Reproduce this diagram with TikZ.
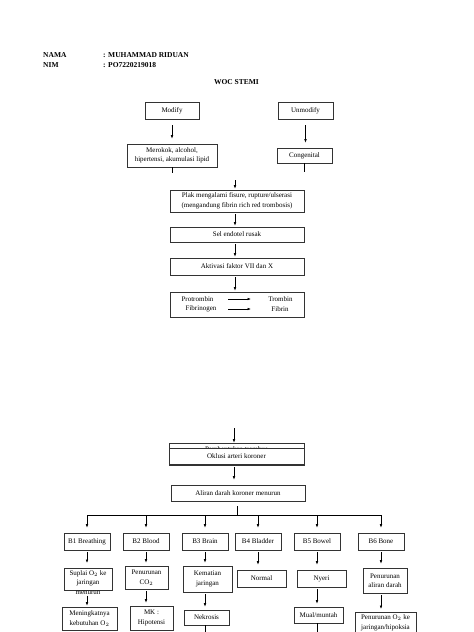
\documentclass[tikz,border=0pt]{standalone}
\usepackage{fontspec}
\setmainfont{Liberation Serif}
\usetikzlibrary{arrows.meta}
\begin{document}
\begin{tikzpicture}[x=1pt,y=-1pt,
  box/.style={draw=black!80,line width=0.6pt,fill=white,inner sep=0pt,align=center,font=\fontsize{7}{9.5}\selectfont},
  arr/.style={draw=black,line width=0.6pt,-{Latex[length=3.5pt,width=2.6pt]}},
  ln/.style={draw=black,line width=0.6pt},
  lbl/.style={inner sep=0pt,font=\fontsize{7}{9}\selectfont},
  hd/.style={inner sep=0pt,anchor=base west,font=\fontsize{7.5}{9}\selectfont\bfseries}]
\useasboundingbox (0,0) rectangle (474,632);
\fill[white] (0,0) rectangle (474,632);
% header
\node[hd] (nama) at (43,57.5) {NAMA};
\node[hd] (nim) at (43,67) {NIM};
\node[hd] (namav) at (103,57.5) {: MUHAMMAD RIDUAN};
\node[hd] (nimv) at (103,67) {: PO7220219018};
\node[hd,anchor=base] (title) at (236.5,84) {WOC STEMI};
% top boxes
\node[box,minimum width=54pt,minimum height=17pt] (modify) at (172,110.5) {Modify};
\node[box,minimum width=55pt,minimum height=17pt] (unmodify) at (305.5,110.5) {Unmodify};
\node[box,minimum width=90pt,minimum height=23pt] (merokok) at (172,155.5) {Merokok, alcohol,\\hipertensi, akumulasi lipid};
\node[box,minimum width=55pt,minimum height=15pt] (congenital) at (304.5,155.5) {Congenital};
\draw[arr,shorten <=6pt,shorten >=5pt] (modify.south) -- (merokok.north);
\draw[arr,shorten <=6pt,shorten >=5pt] (unmodify.south) -- (unmodify.south |- congenital.north);
\coordinate (m1) at (172,173);
\coordinate (c1) at (304.5,172);
\coordinate (p0) at (235,180);
\draw[ln] (merokok.south) -- (m1);
\draw[ln] (congenital.south) -- (c1);
% central chain
\node[box,minimum width=134pt,minimum height=22pt] (plak) at (237,201) {Plak mengalami fisure, rupture/ulserasi\\(mengandung fibrin rich red trombosis)};
\node[box,minimum width=134pt,minimum height=15pt] (sel) at (237,234.5) {Sel endotel rusak};
\node[box,minimum width=134pt,minimum height=17pt] (aktivasi) at (237,266.5) {Aktivasi faktor VII dan X};
\node[box,minimum width=134pt,minimum height=25pt] (protro) at (237,304.5) {};
\draw[arr,shorten >=1pt] (p0) -- (p0 |- plak.north);
\draw[arr,shorten <=2pt,shorten >=1pt] (plak.south -| p0) -- (sel.north -| p0);
\draw[arr,shorten <=2pt,shorten >=1pt] (sel.south -| p0) -- (aktivasi.north -| p0);
\draw[arr,shorten <=2pt,shorten >=1pt] (aktivasi.south -| p0) -- (protro.north -| p0);
\node[lbl] (protrombin) at (197.5,299) {Protrombin};
\node[lbl] (fibrinogen) at (201,309) {Fibrinogen};
\node[lbl] (trombin) at (280.5,299) {Trombin};
\node[lbl] (fibrin) at (280,309) {Fibrin};
\coordinate (a1s) at (228,299); \coordinate (a1e) at (251,299);
\coordinate (a2s) at (228,309); \coordinate (a2e) at (251,309);
\draw[arr] (a1s) -- (a1e);
\draw[arr] (a2s) -- (a2e);
% lower chain
\node[box,minimum width=135pt,minimum height=22pt] (pembentukan) at (236.5,454) {};
\node[lbl,anchor=base] (pembt) at (236.5,451.5) {Pembentukan trombus};
\node[box,minimum width=135pt,minimum height=16pt] (oklusi) at (236.5,456) {Oklusi arteri koroner};
\coordinate (k0) at (234,428);
\draw[arr] (k0) -- (k0 |- pembentukan.north);
\node[box,minimum width=134pt,minimum height=16pt] (aliran) at (238,493) {Aliran darah koroner menurun};
\draw[arr,shorten <=3pt,shorten >=5pt] (oklusi.south -| k0) -- (aliran.north -| k0);
\coordinate (h0) at (237,515);
\coordinate (hL) at (87,515);
\coordinate (hR) at (381,515);
\draw[ln,shorten <=5pt] (aliran.south -| h0) -- (h0);
\draw[ln] (hL) -- (hR);
% B boxes
\foreach \n/\x/\t in {b1/87/B1 Breathing,b2/146/B2 Blood,b3/205/B3 Brain,b4/258/B4 Bladder,b5/317/B5 Bowel,b6/381/B6 Bone}{
  \node[box,minimum width=46pt,minimum height=17pt] (\n) at (\x,541.5) {\t};
  \draw[arr,shorten >=5pt] (\x,515) -- (\n.north);
}
% row 2
\node[box,minimum width=48pt,minimum height=22pt,anchor=north] (suplai) at (88,568) {};
\node[lbl,anchor=north,align=center,font=\fontsize{7}{9.5}\selectfont] (suplait) at (88,570) {Suplai O$_2$ ke\\jaringan\\menurun};
\node[box,minimum width=43pt,minimum height=23pt] (co2) at (146.5,577.5) {Penurunan\\CO$_2$};
\node[box,minimum width=49pt,minimum height=26pt] (kematian) at (207.5,579) {Kematian\\jaringan};
\node[box,minimum width=49pt,minimum height=17pt] (normal) at (261.5,578.5) {Normal};
\node[box,minimum width=49pt,minimum height=17pt] (nyeri) at (321.5,578.5) {Nyeri};
\node[box,minimum width=44pt,minimum height=25pt] (alirdarah) at (385,580.5) {Penurunan\\aliran darah};
\draw[arr,shorten <=2pt,shorten >=5pt] (b1.south) -- (b1.south |- suplai.north);
\draw[arr,shorten <=2pt,shorten >=3pt] (b2.south) -- (b2.south |- co2.north);
\draw[arr,shorten <=2pt,shorten >=3pt] (b3.south) -- (b3.south |- kematian.north);
\draw[arr,shorten <=2pt,shorten >=5pt] (b4.south) -- (b4.south |- normal.north);
\draw[arr,shorten <=2pt,shorten >=5pt] (b5.south) -- (b5.south |- nyeri.north);
\draw[arr,shorten <=2pt,shorten >=4pt] (b6.south) -- (b6.south |- alirdarah.north);
% row 3
\node[box,minimum width=55pt,minimum height=23pt] (mening) at (89.5,618.5) {Meningkatnya\\kebutuhan O$_2$};
\node[box,minimum width=43pt,minimum height=24pt] (mk) at (151.5,618) {MK :\\Hipotensi};
\node[box,minimum width=45pt,minimum height=15pt] (nekrosis) at (206.5,617.5) {Nekrosis};
\node[box,minimum width=49pt,minimum height=16pt] (mual) at (318.5,615) {Mual/muntah};
\node[box,minimum width=61pt,minimum height=28pt,anchor=north] (peno2) at (385.5,612) {};
\node[lbl,anchor=north,align=center,font=\fontsize{7}{9.5}\selectfont] (peno2t) at (385.5,614.5) {Penurunan O$_2$ ke\\jaringan/hipoksia};
\draw[arr,shorten <=5pt,shorten >=1pt] (suplai.south -| b1.south) -- (b1.south |- mening.north);
\draw[arr,shorten <=2pt,shorten >=3pt] (co2.south -| b2.south) -- (b2.south |- mk.north);
\draw[arr,shorten <=2pt,shorten >=3pt] (kematian.south -| b3.south) -- (b3.south |- nekrosis.north);
\draw[arr,shorten <=2pt,shorten >=3pt] (nyeri.south -| b5.south) -- (b5.south |- mual.north);
\draw[arr,shorten <=2pt,shorten >=3pt] (alirdarah.south -| b6.south) -- (b6.south |- peno2.north);
\coordinate (n1) at (205,634);
\coordinate (u1) at (317,634);
\draw[ln] (nekrosis.south -| n1) -- (n1);
\draw[ln] (mual.south -| u1) -- (u1);
\end{tikzpicture}
\end{document}
